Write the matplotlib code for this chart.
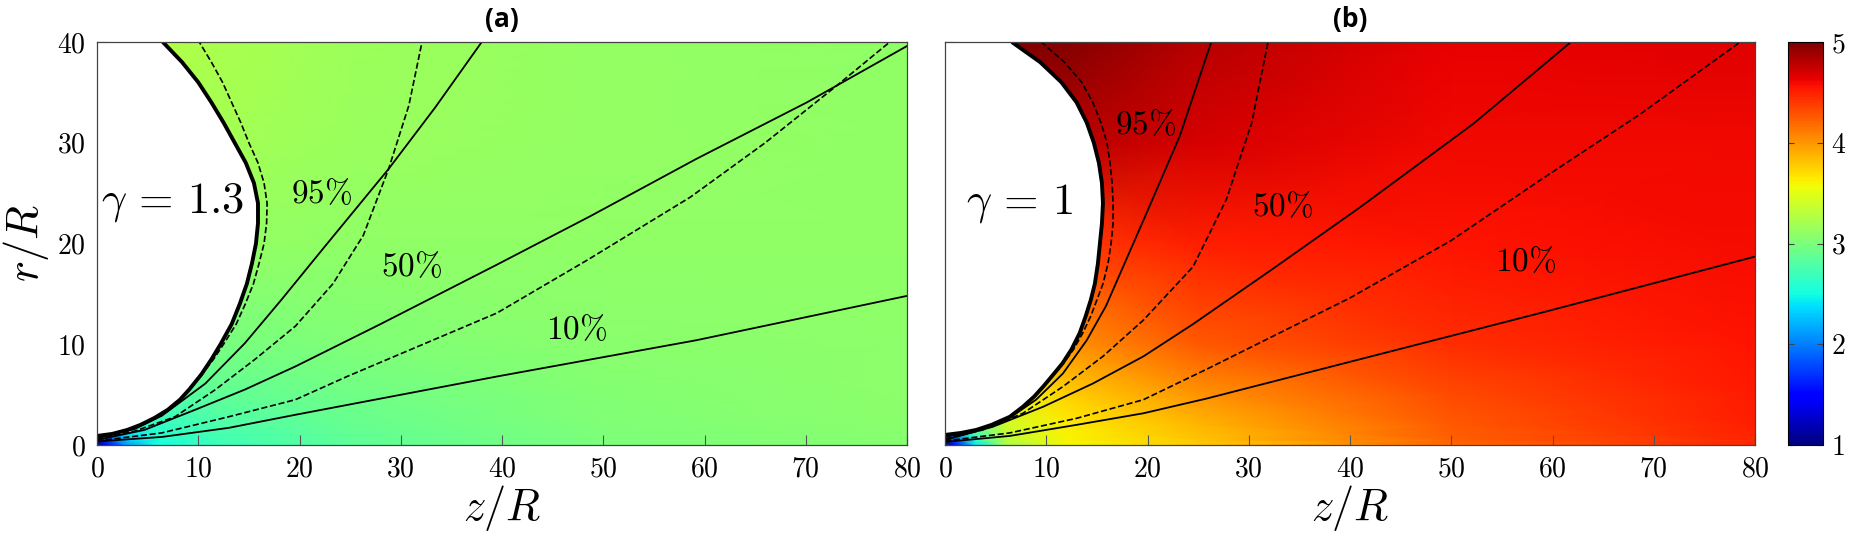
import matplotlib
matplotlib.use('Agg')
import matplotlib.pyplot as plt
import numpy as np

plt.rcParams['mathtext.fontset'] = 'cm'
plt.rcParams['font.family'] = ['cmr10', 'DejaVu Serif']
plt.rcParams['axes.unicode_minus'] = False
plt.rcParams['axes.formatter.use_mathtext'] = True

# field samples (rows: r, columns: z)
grid_z = [0, 1, 3, 6, 12, 25, 50, 80]
grid_r = [0, 0.5, 2, 5, 10, 20, 30, 40]

field_a = [
    [1.0, 1.5, 2.1, 2.5, 2.7, 2.85, 3.0, 3.06],
    [1.2, 1.8, 2.3, 2.55, 2.72, 2.87, 3.0, 3.06],
    [2.0, 2.3, 2.5, 2.65, 2.78, 2.9, 3.02, 3.07],
    [2.5, 2.6, 2.7, 2.78, 2.87, 2.95, 3.04, 3.08],
    [2.8, 2.85, 2.9, 2.95, 2.98, 3.02, 3.07, 3.09],
    [3.1, 3.1, 3.12, 3.14, 3.12, 3.1, 3.1, 3.1],
    [3.2, 3.2, 3.2, 3.22, 3.2, 3.15, 3.12, 3.1],
    [3.25, 3.25, 3.25, 3.25, 3.22, 3.16, 3.12, 3.1],
]

field_b = [
    [1.0, 1.5, 2.4, 3.2, 3.58, 3.78, 4.2, 4.47],
    [1.3, 1.9, 2.6, 3.3, 3.6, 3.8, 4.22, 4.48],
    [2.2, 2.5, 2.9, 3.4, 3.63, 3.86, 4.25, 4.5],
    [3.0, 3.1, 3.3, 3.55, 3.75, 4.0, 4.32, 4.53],
    [3.6, 3.6, 3.7, 3.85, 4.0, 4.25, 4.45, 4.56],
    [4.3, 4.3, 4.3, 4.35, 4.4, 4.5, 4.56, 4.58],
    [4.8, 4.8, 4.8, 4.8, 4.8, 4.7, 4.6, 4.6],
    [5.0, 5.0, 5.0, 5.0, 4.98, 4.8, 4.64, 4.66],
]

# panel (a) curves, gamma = 1.3
a_bnd_r = [0.9, 1.1, 1.5, 2.0, 2.7, 3.5, 4.5, 5.5, 7.0, 8.5, 10, 12, 14, 16, 18,
           20, 22, 24, 26, 28, 30, 32, 34, 36, 38, 40]
a_bnd_z = [0, 1.5, 3.0, 4.3, 5.7, 7.0, 8.2, 9.1, 10.3, 11.3, 12.2, 13.3, 14.1, 14.8, 15.3,
           15.7, 15.9, 15.9, 15.5, 14.7, 13.6, 12.5, 11.3, 10.0, 8.4, 6.5]
a_bnd_dash_r = [5.5, 7.0, 8.5, 10, 12, 14, 16, 18, 20, 22, 24, 26, 28, 30, 32, 34, 36, 38, 40]
a_bnd_dash_z = [9.1, 10.35, 11.5, 12.5, 13.75, 14.65, 15.45, 16.0, 16.5, 16.75, 16.8, 16.5,
                15.9, 15.0, 14.2, 13.3, 12.4, 11.3, 10.1]
a_95_z = [0, 3.75, 6.4, 10.7, 14.6, 18.2, 22.5, 28.8, 33.4, 38.0]
a_95_r = [0.7, 1.6, 2.9, 6.1, 10.1, 14.4, 19.7, 27.4, 33.5, 40]
a_95d_z = [0, 3.8, 7.7, 11.7, 15.6, 19.6, 23.3, 26.3, 28.8, 30.8, 32.1]
a_95d_r = [0.6, 1.4, 2.8, 5.5, 8.5, 11.8, 16.0, 20.8, 27.4, 33.7, 40]
a_50_z = [0, 4.7, 9.7, 14.6, 19.6, 28.0, 39.5, 48.7, 59.2, 70.1, 80]
a_50_r = [0.5, 1.5, 3.5, 5.5, 7.8, 12.0, 17.9, 22.7, 28.4, 34.0, 39.6]
a_50d_z = [0, 6.4, 13.0, 19.6, 24.7, 39.5, 48.5, 58.6, 66.0, 73.1, 78.3]
a_50d_r = [0.4, 1.2, 2.8, 4.5, 6.8, 13.1, 18.4, 24.6, 30.0, 35.7, 40.0]
a_10_z = [0, 6.4, 13.0, 19.6, 39.5, 59.2, 80]
a_10_r = [0.35, 0.8, 1.7, 3.0, 6.8, 10.4, 14.8]

# panel (b) curves, gamma = 1
b_bnd_r = [1.0, 1.2, 1.5, 2.0, 2.8, 3.8, 4.8, 5.8, 7.0, 8.1, 9.5, 11.1, 12.8, 14.4, 16,
           18, 20, 22, 24, 26, 28, 30, 32, 34, 36, 38, 40]
b_bnd_z = [0, 1.6, 3.1, 4.6, 6.4, 7.7, 8.8, 9.7, 10.7, 11.6, 12.5, 13.3, 13.9, 14.4, 14.8,
           15.1, 15.3, 15.5, 15.6, 15.5, 15.2, 14.7, 14.0, 13.0, 11.5, 9.4, 6.6]
b_bnd_dash_r = [5.8, 7.0, 8.1, 9.5, 11.1, 12.8, 14.4, 16, 18, 20, 22, 24, 26, 28, 30, 32,
                34, 36, 38, 40]
b_bnd_dash_z = [9.7, 10.75, 11.7, 12.7, 13.6, 14.4, 15.0, 15.6, 16.1, 16.4, 16.6, 16.6,
                16.5, 16.3, 16.0, 15.4, 14.6, 13.5, 11.8, 9.5]
b_95_z = [0, 3.1, 6.4, 9.0, 11.65, 14.0, 15.9, 19.9, 23.2, 26.3]
b_95_r = [0.8, 1.4, 2.7, 4.5, 7.1, 10.4, 13.8, 23.0, 30.7, 40.0]
b_95d_z = [0, 3.75, 7.7, 11.65, 15.6, 19.6, 24.5, 27.8, 30.3, 31.9]
b_95d_r = [0.6, 1.5, 3.15, 5.8, 8.8, 12.4, 17.7, 24.4, 32.0, 40.0]
b_50_z = [0, 4.7, 9.7, 14.6, 19.6, 24.5, 32.4, 41.0, 52.2, 61.7]
b_50_r = [0.5, 1.8, 3.8, 6.1, 8.8, 12.0, 17.5, 23.6, 31.9, 39.9]
b_50d_z = [0, 6.4, 13.0, 19.6, 26.0, 32.4, 40.0, 50.0, 58.8, 68.6, 78.4]
b_50d_r = [0.4, 1.2, 2.65, 4.5, 7.6, 10.8, 14.6, 20.3, 26.3, 32.8, 39.9]
b_10_z = [0, 6.4, 13.0, 19.6, 25.8, 39.0, 58.8, 80]
b_10_r = [0.3, 0.9, 2.0, 3.15, 4.6, 8.0, 13.1, 18.7]

W, H = 1850, 543


def box(x0, y0, x1, y1):
    return [x0 / W, 1 - y1 / H, (x1 - x0) / W, (y1 - y0) / H]


fig = plt.figure(figsize=(W / 100, H / 100), dpi=100)
ax_a = fig.add_axes(box(97, 42, 907, 445))
ax_b = fig.add_axes(box(945, 42, 1755, 445))
cax = fig.add_axes(box(1788, 42, 1823, 445))


def draw_panel(ax, field, bnd, bnd_dash, solids, dashes):
    mesh = ax.pcolormesh(grid_z, grid_r, np.array(field), shading='gouraud',
                         cmap='jet', vmin=1, vmax=5, zorder=1)
    # white region left of the boundary
    ax.fill([0] + list(bnd[0]) + [0], [bnd[1][0]] + list(bnd[1]) + [40],
            color='white', lw=0, zorder=2)
    ax.plot(bnd[0], bnd[1], color='black', lw=2.8, zorder=4,
            solid_capstyle='butt', solid_joinstyle='round')
    ax.plot(bnd_dash[0], bnd_dash[1], color='black', lw=1.2, ls='--', zorder=3)
    for z, r in solids:
        ax.plot(z, r, color='black', lw=1.3, zorder=3, solid_joinstyle='round')
    for z, r in dashes:
        ax.plot(z, r, color='black', lw=1.2, ls='--', zorder=3)
    ax.set_xlim(0, 80)
    ax.set_ylim(0, 40)
    ax.set_xticks(range(0, 81, 10))
    ax.set_yticks(range(0, 41, 10))
    ax.tick_params(direction='in', length=7, width=0.8, color='#555555',
                   labelsize=20, pad=8)
    for s in ax.spines.values():
        s.set_linewidth(0.9)
        s.set_color('#444444')
        s.set_zorder(6)
    return mesh


mesh = draw_panel(ax_a, field_a, (a_bnd_z, a_bnd_r), (a_bnd_dash_z, a_bnd_dash_r),
                  [(a_95_z, a_95_r), (a_50_z, a_50_r), (a_10_z, a_10_r)],
                  [(a_95d_z, a_95d_r), (a_50d_z, a_50d_r)])
draw_panel(ax_b, field_b, (b_bnd_z, b_bnd_r), (b_bnd_dash_z, b_bnd_dash_r),
           [(b_95_z, b_95_r), (b_50_z, b_50_r), (b_10_z, b_10_r)],
           [(b_95d_z, b_95d_r), (b_50d_z, b_50d_r)])
ax_b.tick_params(labelleft=False)

# annotations
ax_a.text(7.5, 24.1, r'$\gamma\,=\,1.3$', fontsize=32, ha='center', va='center', zorder=5)
ax_a.text(22.2, 25.0, r'$95\%$', fontsize=24, ha='center', va='center', zorder=5)
ax_a.text(31.1, 17.7, r'$50\%$', fontsize=24, ha='center', va='center', zorder=5)
ax_a.text(47.4, 11.5, r'$10\%$', fontsize=24, ha='center', va='center', zorder=5)
ax_b.text(7.4, 24.0, r'$\gamma\,=\,1$', fontsize=32, ha='center', va='center', zorder=5)
ax_b.text(19.8, 31.8, r'$95\%$', fontsize=24, ha='center', va='center', zorder=5)
ax_b.text(33.3, 23.7, r'$50\%$', fontsize=24, ha='center', va='center', zorder=5)
ax_b.text(57.3, 18.2, r'$10\%$', fontsize=24, ha='center', va='center', zorder=5)

# axis labels and panel titles
fig.text(26 / W, 1 - 243 / H, r'$r/R$', rotation=90, fontsize=32, ha='center', va='center')
fig.text(502 / W, 1 - 508 / H, r'$z/R$', fontsize=32, ha='center', va='center')
fig.text(1350 / W, 1 - 508 / H, r'$z/R$', fontsize=32, ha='center', va='center')
fig.text(502 / W, 1 - 20 / H, '(a)', fontsize=19, fontweight='bold',
         family=['Open Sans', 'DejaVu Sans'], ha='center', va='center')
fig.text(1350 / W, 1 - 20 / H, '(b)', fontsize=19, fontweight='bold',
         family=['Open Sans', 'DejaVu Sans'], ha='center', va='center')

cbar = fig.colorbar(mesh, cax=cax, ticks=[1, 2, 3, 4, 5])
cbar.ax.tick_params(direction='in', left=True, right=True, length=4, width=0.8,
                    color='#444444', labelsize=20, pad=6)
cbar.outline.set_linewidth(0.8)

fig.savefig('out.png', dpi=100)
